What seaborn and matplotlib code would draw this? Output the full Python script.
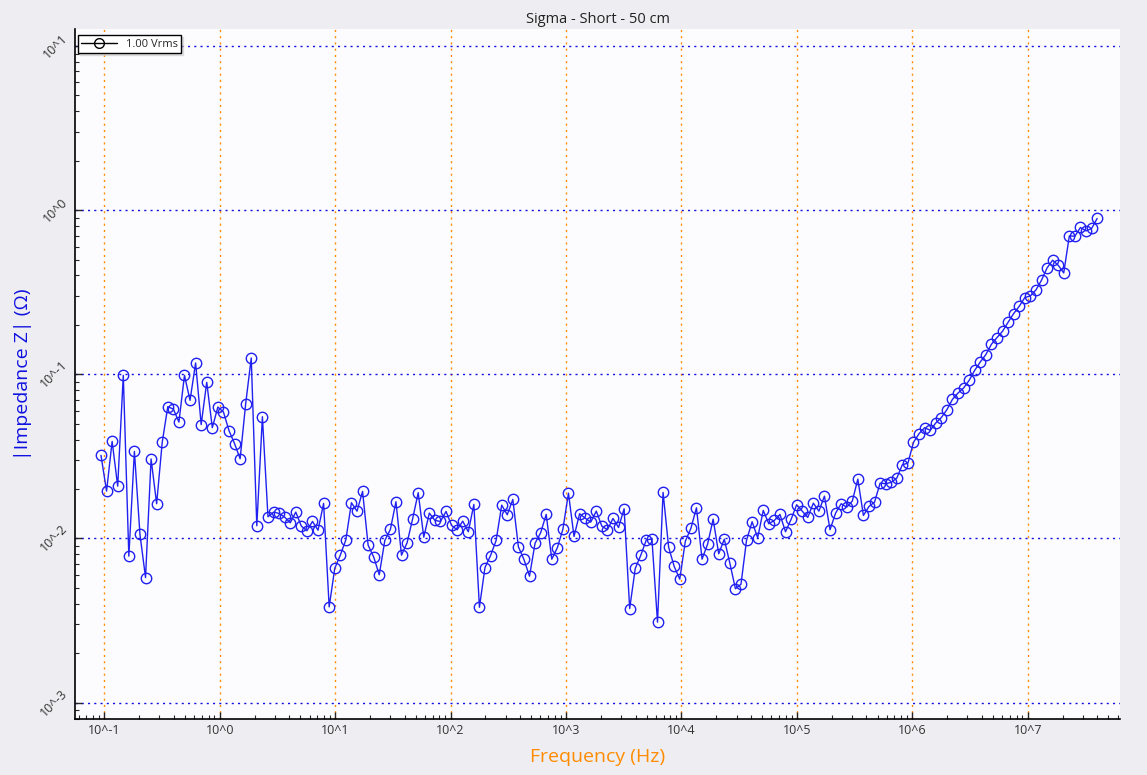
import numpy as np
import pandas as pd
import matplotlib
matplotlib.use('Agg')
import matplotlib.pyplot as plt
import seaborn as sns
from matplotlib.ticker import LogLocator, FuncFormatter, NullFormatter
from matplotlib.lines import Line2D

# ── Datos: barrido de frecuencia (Hz) y |Z| (Ohm) ────────────────────
freq_hz = [
    0.0935, 0.1045, 0.1168, 0.1305, 0.1459, 0.1630, 0.1821, 0.2035, 0.2274, 0.2540,
    0.2838, 0.3172, 0.3544, 0.3961, 0.4426, 0.4945, 0.5525, 0.6175, 0.6899, 0.7709,
    0.8615, 0.9627, 1.076, 1.202, 1.343, 1.501, 1.677, 1.873, 2.093, 2.340,
    2.615, 2.921, 3.264, 3.647, 4.076, 4.554, 5.089, 5.685, 6.355, 7.100,
    7.934, 8.866, 9.906, 11.07, 12.37, 13.82, 15.45, 17.26, 19.28, 21.55,
    24.08, 26.90, 30.06, 33.59, 37.53, 41.95, 46.87, 52.38, 58.51, 65.39,
    73.06, 81.64, 91.22, 101.9, 113.9, 127.3, 142.3, 158.9, 177.6, 198.4,
    221.7, 247.8, 276.9, 309.4, 345.7, 386.3, 431.6, 482.3, 538.9, 602.2,
    672.9, 751.9, 840.3, 938.9, 1049, 1172, 1310, 1464, 1636, 1827,
    2042, 2282, 2550, 2849, 3183, 3557, 3976, 4442, 4964, 5546,
    6198, 6924, 7737, 8646, 9661, 1.080e4, 1.206e4, 1.348e4, 1.507e4, 1.683e4,
    1.880e4, 2.101e4, 2.348e4, 2.624e4, 2.932e4, 3.276e4, 3.661e4, 4.091e4, 4.571e4, 5.108e4,
    5.706e4, 6.379e4, 7.126e4, 7.963e4, 8.899e4, 9.943e4, 1.111e5, 1.241e5, 1.388e5, 1.550e5,
    1.732e5, 1.935e5, 2.163e5, 2.417e5, 2.700e5, 3.017e5, 3.371e5, 3.767e5, 4.210e5, 4.705e5,
    5.257e5, 5.873e5, 6.564e5, 7.333e5, 8.194e5, 9.156e5, 1.023e6, 1.143e6, 1.278e6, 1.428e6,
    1.595e6, 1.782e6, 1.991e6, 2.226e6, 2.487e6, 2.779e6, 3.105e6, 3.470e6, 3.877e6, 4.332e6,
    4.841e6, 5.408e6, 6.044e6, 6.754e6, 7.547e6, 8.434e6, 9.423e6, 1.053e7, 1.177e7, 1.315e7,
    1.469e7, 1.642e7, 1.834e7, 2.049e7, 2.291e7, 2.559e7, 2.859e7, 3.195e7, 3.570e7, 3.990e7,
]
impedance = [
    0.0321, 0.01943, 0.0390, 0.02084, 0.0986, 0.00780, 0.0339, 0.01058, 0.00578, 0.0305,
    0.01628, 0.0385, 0.0635, 0.0614, 0.0512, 0.0986, 0.0694, 0.1172, 0.0494, 0.0894,
    0.0473, 0.0632, 0.0589, 0.0454, 0.0378, 0.0306, 0.0663, 0.1258, 0.01195, 0.0552,
    0.01356, 0.01447, 0.01421, 0.01349, 0.01246, 0.01447, 0.01189, 0.01114, 0.01270, 0.01123,
    0.01635, 0.00383, 0.00657, 0.00791, 0.00982, 0.01651, 0.01467, 0.01934, 0.00910, 0.00771,
    0.00601, 0.00972, 0.01135, 0.01674, 0.00791, 0.00941, 0.01319, 0.01900, 0.01018, 0.01427,
    0.01288, 0.01270, 0.01461, 0.01200, 0.01130, 0.01275, 0.01099, 0.01612, 0.00381, 0.00665,
    0.00787, 0.00972, 0.01596, 0.01395, 0.01729, 0.00890, 0.00745, 0.00589, 0.00936, 0.01083,
    0.01401, 0.00748, 0.00878, 0.01139, 0.01889, 0.01028, 0.01415, 0.01330, 0.01258, 0.01467,
    0.01189, 0.01130, 0.01324, 0.01167, 0.01517, 0.00374, 0.00657, 0.00791, 0.00982, 0.00990,
    0.00309, 0.01908, 0.00885, 0.00675, 0.00565, 0.00963, 0.01151, 0.01538, 0.00748, 0.00923,
    0.01311, 0.00807, 0.00990, 0.00707, 0.00494, 0.00526, 0.00976, 0.01264, 0.01010, 0.01482,
    0.01229, 0.01288, 0.01401, 0.01099, 0.01306, 0.01605, 0.01467, 0.01343, 0.01641, 0.01467,
    0.01811, 0.01130, 0.01427, 0.01628, 0.01552, 0.01688, 0.02299, 0.01381, 0.01567, 0.01665,
    0.02174, 0.02156, 0.02196, 0.02332, 0.02814, 0.02877, 0.0385, 0.0435, 0.0473, 0.0456,
    0.0505, 0.0545, 0.0609, 0.0704, 0.0769, 0.0825, 0.0919, 0.1058, 0.1189, 0.1319,
    0.1524, 0.1674, 0.1829, 0.2076, 0.2345, 0.2598, 0.2936, 0.3002, 0.3266, 0.3743,
    0.4448, 0.4956, 0.4620, 0.4147, 0.6970, 0.6942, 0.7844, 0.7476, 0.7733, 0.8901,
]
series_label = '1.00 Vrms'
title = 'Sigma - Short - 50 cm'

df = pd.DataFrame({'freq': freq_hz, 'z': impedance})

# ── Estilo ───────────────────────────────────────────────────────────
sns.set_style('white')
plt.rcParams['font.family'] = ['Open Sans', 'DejaVu Sans']

fig = plt.figure(figsize=(11.47, 7.75), dpi=100, facecolor='#EEEEF2')
ax = fig.add_axes([0.0654, 0.0723, 0.9111, 0.8903])
ax.set_facecolor('#FCFCFF')

sns.lineplot(data=df, x='freq', y='z', ax=ax, sort=False, estimator=None,
             color='#2020F0', lw=1.0, marker='o', ms=7.5, mfc='none',
             mec='#2020F0', mew=1.0, legend=False)

ax.set_xscale('log')
ax.set_yscale('log')
ax.set_xlim(0.0557, 6.3e7)
ax.set_ylim(7.95e-4, 12.7)

fmt = FuncFormatter(lambda v, p: f"10^{int(round(np.log10(v)))}")
ax.xaxis.set_major_locator(LogLocator(base=10, numticks=20))
ax.xaxis.set_minor_locator(LogLocator(base=10, subs=np.arange(2, 10), numticks=100))
ax.yaxis.set_major_locator(LogLocator(base=10, numticks=20))
ax.yaxis.set_minor_locator(LogLocator(base=10, subs=np.arange(2, 10), numticks=100))
ax.xaxis.set_major_formatter(fmt)
ax.yaxis.set_major_formatter(fmt)
ax.xaxis.set_minor_formatter(NullFormatter())
ax.yaxis.set_minor_formatter(NullFormatter())

ax.tick_params(axis='both', which='major', direction='in', length=5, width=1,
               labelsize=9, labelcolor='#333333', bottom=True, left=True)
ax.tick_params(axis='both', which='minor', direction='in', length=3, width=0.8,
               bottom=True, left=True)
for lbl in ax.get_yticklabels():
    lbl.set_rotation(45)
    lbl.set_va('center')
    lbl.set_ha('right')

ax.grid(False)
ax.xaxis.grid(True, which='major', color='#FF8C00', ls=(0, (1.5, 3)), lw=1.0)
ax.yaxis.grid(True, which='major', color='#1010E0', ls=(0, (1.5, 3)), lw=1.0)

for side in ['top', 'right']:
    ax.spines[side].set_visible(False)
for side in ['bottom', 'left']:
    ax.spines[side].set_color('black')
    ax.spines[side].set_linewidth(1.2)

ax.set_title(title, fontsize=10.5, pad=4, color='#222222')
ax.set_xlabel('Frequency (Hz)', fontsize=14, color='#FF8C00', labelpad=8)
ax.set_ylabel('|Impedance Z| (Ω)', fontsize=14, color='#1010E0', labelpad=4)

handle = Line2D([], [], color='black', lw=1.0, marker='o', ms=7, mfc='none', mec='black')
leg = ax.legend([handle], [series_label], loc='upper left', fontsize=8,
                frameon=True, fancybox=False,
                shadow={'ox': 1.2, 'oy': -1.2, 'color': '#C8C8C8'},
                bbox_to_anchor=(0.003, 0.991), borderaxespad=0.0,
                handlelength=3.2, borderpad=0.3)
leg.get_frame().set_edgecolor('black')
leg.get_frame().set_linewidth(1.0)

plt.savefig('out.png', dpi=100, facecolor=fig.get_facecolor())
plt.close()
